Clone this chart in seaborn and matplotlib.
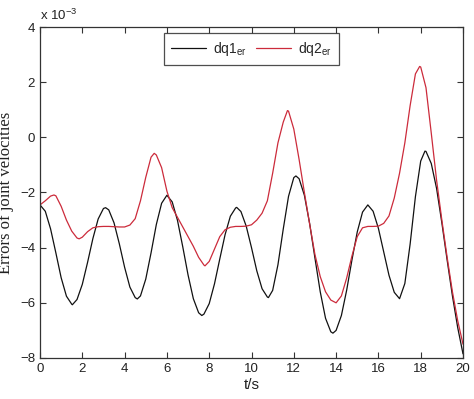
import numpy as np
import pandas as pd
import matplotlib
matplotlib.use('Agg')
import matplotlib.pyplot as plt
import seaborn as sns

# time axis (s), sampled every 0.25 s
t = np.linspace(0, 20, 81)

# errors of joint velocities, in units of 1e-3
dq1_er = [-2.45, -2.68, -3.32, -4.19, -5.09, -5.76, -6.05, -5.88, -5.33, -4.53,
          -3.67, -2.96, -2.58, -2.63, -3.10, -3.86, -4.71, -5.43, -5.81, -5.75,
          -5.14, -4.19, -3.16, -2.39, -2.10, -2.34, -3.01, -3.97, -4.99, -5.85,
          -6.36, -6.41, -6.03, -5.31, -4.41, -3.53, -2.86, -2.56, -2.69, -3.22,
          -4.00, -4.84, -5.49, -5.79, -5.55, -4.62, -3.33, -2.14, -1.46, -1.50,
          -2.10, -3.13, -4.38, -5.60, -6.56, -7.05, -7.00, -6.46, -5.54, -4.44,
          -3.43, -2.71, -2.45, -2.68, -3.30, -4.15, -5.00, -5.62, -5.85, -5.30,
          -3.87, -2.15, -0.86, -0.51, -0.95, -1.85, -3.10, -4.45, -5.75, -6.90,
          -7.85]
dq2_er = [-2.45, -2.30, -2.13, -2.12, -2.50, -3.00, -3.40, -3.65, -3.62, -3.42,
          -3.28, -3.24, -3.23, -3.23, -3.24, -3.25, -3.25, -3.18, -2.95, -2.30,
          -1.45, -0.72, -0.64, -1.10, -1.95, -2.55, -2.90, -3.25, -3.60, -3.95,
          -4.35, -4.63, -4.50, -4.05, -3.60, -3.35, -3.26, -3.23, -3.23, -3.22,
          -3.17, -3.00, -2.75, -2.30, -1.30, -0.20, 0.55, 0.95, 0.30, -0.80,
          -2.00, -3.15, -4.25, -5.05, -5.60, -5.90, -6.00, -5.75, -5.10, -4.30,
          -3.60, -3.28, -3.23, -3.23, -3.22, -3.12, -2.85, -2.20, -1.30, -0.20,
          1.15, 2.30, 2.55, 1.80, 0.15, -1.55, -3.00, -4.35, -5.60, -6.65,
          -7.50]

# turning points read separately (time, value)
dq1_peak_t = [1.53, 3.1, 4.6, 7.65, 9.3, 10.8, 12.1, 13.85, 18.2]
dq1_peak_v = [-6.07, -2.55, -5.86, -6.46, -2.54, -5.81, -1.40, -7.10, -0.50]
dq2_peak_t = [0.66, 1.85, 5.4, 7.8, 11.7, 17.95]
dq2_peak_v = [-2.09, -3.68, -0.58, -4.66, 0.97, 2.57]

names = [r'dq1$_{\mathregular{er}}$', r'dq2$_{\mathregular{er}}$']
parts = []
for name, tv, vv, pt, pv in [(names[0], t, dq1_er, dq1_peak_t, dq1_peak_v),
                             (names[1], t, dq2_er, dq2_peak_t, dq2_peak_v)]:
    d = pd.DataFrame({'t': np.concatenate([tv, pt]), 'err': list(vv) + pv})
    d['serie'] = name
    parts.append(d.sort_values('t'))
df = pd.concat(parts, ignore_index=True)

sns.set_style('ticks')
plt.rcParams['font.family'] = ['Liberation Sans', 'DejaVu Sans']
plt.rcParams['xtick.direction'] = 'in'
plt.rcParams['ytick.direction'] = 'in'

fig = plt.figure(figsize=(4.74, 3.99), dpi=100)
ax = fig.add_axes([0.0844, 0.1028, 0.8924, 0.8295])

sns.lineplot(data=df, x='t', y='err', hue='serie', palette=['#111111', '#cc2b3b'],
             linewidth=0.9, sort=False, estimator=None, ax=ax)

ax.set_xlim(0, 20)
ax.set_ylim(-8, 4)
ax.set_xticks(np.arange(0, 21, 2))
ax.set_yticks(np.arange(-8, 5, 2))
ax.tick_params(axis='both', labelsize=9.5, colors='#333333', length=4, width=0.8,
               top=True, right=True, labelcolor='#222222')
for s in ax.spines.values():
    s.set_color('#333333')
    s.set_linewidth(0.9)

ax.set_xlabel('t/s', fontsize=11, color='#222222', labelpad=2)
ax.set_ylabel('Errors of joint velocities', fontsize=12, family=['Liberation Serif'],
              color='#222222', labelpad=4)
ax.text(0.0, 1.012, r'x 10$^{\mathregular{-3}}$', transform=ax.transAxes, fontsize=9.5,
        color='#222222', ha='left', va='bottom')

leg = ax.legend(loc='upper center', bbox_to_anchor=(0.5, 0.982), ncol=2, fontsize=10,
                frameon=True, fancybox=False, edgecolor='#222222', handlelength=2.5,
                handletextpad=0.5, columnspacing=0.7, borderpad=0.5, borderaxespad=0,
                title=None)
leg.get_frame().set_linewidth(0.9)

fig.savefig('out.png', dpi=100)
